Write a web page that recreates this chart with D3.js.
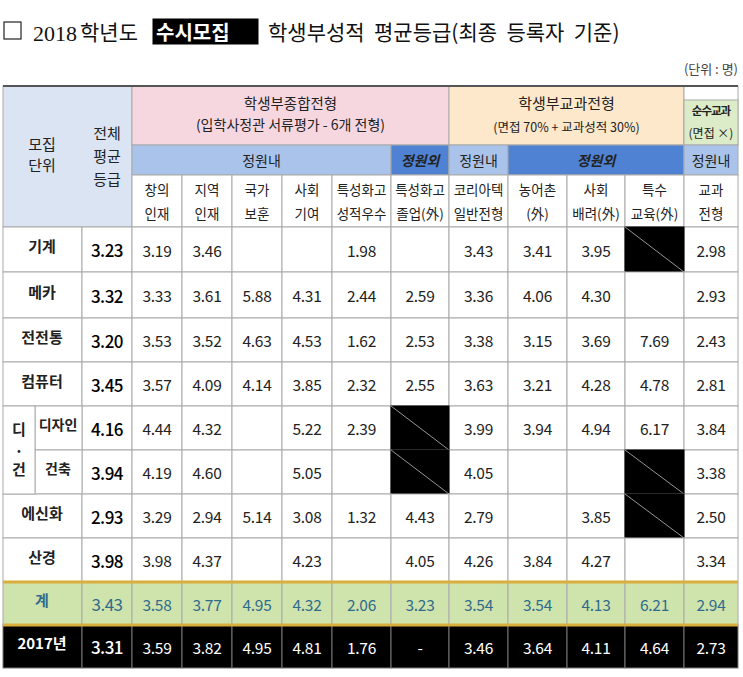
<!DOCTYPE html><html><head><meta charset="utf-8">
<script src="https://cdn.jsdelivr.net/npm/d3@7"></script>
<style>body{margin:0;background:#fff}text{font-family:"Noto Sans CJK KR",sans-serif}</style></head><body>
<svg id="c" width="743" height="677"></svg>
<script>
const colEdges=[3,82,132,182,232,282,332,391,449,508,567,625,684,738];
const rowEdges=[227,272,318,362,406,450,494,538,582,625,668];
const subHeaders=[["창의","인재"],["지역","인재"],["국가","보훈"],["사회","기여"],["특성화고","성적우수"],["특성화고","졸업(外)"],["코리아텍","일반전형"],["농어촌","(外)"],["사회","배려(外)"],["특수","교육(外)"],["교과","전형"]];
const units=["기계","메카","전전통","컴퓨터","디자인","건축","에신화","산경","계","2017년"];
const totalAvg=[3.23,3.32,3.20,3.45,4.16,3.94,2.93,3.98,3.43,3.31];
// "X" = blocked cell, null = empty
const values=[
[3.19,3.46,null,null,1.98,null,3.43,3.41,3.95,"X",2.98],
[3.33,3.61,5.88,4.31,2.44,2.59,3.36,4.06,4.30,null,2.93],
[3.53,3.52,4.63,4.53,1.62,2.53,3.38,3.15,3.69,7.69,2.43],
[3.57,4.09,4.14,3.85,2.32,2.55,3.63,3.21,4.28,4.78,2.81],
[4.44,4.32,null,5.22,2.39,"X",3.99,3.94,4.94,6.17,3.84],
[4.19,4.60,null,5.05,null,"X",4.05,null,null,"X",3.38],
[3.29,2.94,5.14,3.08,1.32,4.43,2.79,null,3.85,"X",2.50],
[3.98,4.37,null,4.23,null,4.05,4.26,3.84,4.27,null,3.34],
[3.58,3.77,4.95,4.32,2.06,3.23,3.54,3.54,4.13,6.21,2.94],
[3.59,3.82,4.95,4.81,1.76,"-",3.46,3.64,4.11,4.64,2.73]];
const svg=d3.select("#c");
const x=i=>colEdges[i], y=i=>rowEdges[i];
function rect(x0,y0,x1,y1,fill,stroke="#aaa"){return svg.append("rect").attr("x",x0).attr("y",y0).attr("width",x1-x0).attr("height",y1-y0).attr("fill",fill).attr("stroke",stroke).attr("stroke-width",1);}
function txt(s,cx,cy,o={}){return svg.append("text").attr("x",cx).attr("y",cy).attr("text-anchor",o.a||"middle").attr("dominant-baseline","central").attr("font-size",o.fs||14).attr("font-weight",o.fw||"normal").attr("font-style",o.it?"italic":"normal").attr("fill",o.c||"#222").attr("letter-spacing",o.ls||0).text(s);}
// title
svg.append("rect").attr("x",4).attr("y",22).attr("width",17).attr("height",17).attr("fill","none").attr("stroke","#222").attr("stroke-width",1.2);
svg.append("text").attr("x",33).attr("y",41).attr("font-size",22).style("font-family","Liberation Serif").attr("fill","#111").text("2018");
svg.append("text").attr("x",80).attr("y",40).attr("font-size",21).attr("fill","#111").text("학년도");
rect(153,19,258,44,"#000","#000");
svg.append("text").attr("x",156).attr("y",40).attr("font-size",20).attr("font-weight","bold").attr("fill","#fff").text("수시모집");
svg.append("text").attr("x",268).attr("y",40).attr("font-size",21).attr("fill","#111").attr("xml:space","preserve").style("white-space","pre").text("학생부성적  평균등급(최종  등록자  기준)");
txt("(단위 : 명)",738,68,{a:"end",fs:13,c:"#444"});
const H0=86,H1=145,H2=175,H3=227;
rect(x(0),H0,x(2),H3,"#dbe4f2");
rect(x(2),H0,x(8),H1,"#f7d7df");
rect(x(8),H0,x(12),H1,"#fde8cb");
rect(x(12),H0,x(13),H1,"#fff");
rect(x(12),H0+14,x(13),H1,"#dcecc9");
rect(x(2),H1,x(7),H2,"#a9c3ea");
rect(x(7),H1,x(8),H2,"#4f82d3");
rect(x(8),H1,x(9),H2,"#a9c3ea");
rect(x(9),H1,x(12),H2,"#4f82d3");
rect(x(12),H1,x(13),H2,"#a9c3ea");
for(let i=2;i<13;i++){rect(x(i),H2,x(i+1),H3,"#fff");
 txt(subHeaders[i-2][0],(x(i)+x(i+1))/2,H2+14,{fs:13.5});txt(subHeaders[i-2][1],(x(i)+x(i+1))/2,H2+38,{fs:13.5});}
txt("모집",42,143,{fs:15});txt("단위",42,164,{fs:15});
txt("전체",107,132,{fs:15});txt("평균",107,155,{fs:15});txt("등급",107,178,{fs:15});
txt("학생부종합전형",(x(2)+x(8))/2,102,{fs:14.5});
txt("(입학사정관 서류평가 - 6개 전형)",(x(2)+x(8))/2,124,{fs:14});
txt("학생부교과전형",(x(8)+x(12))/2,102,{fs:15});
txt("(면접 70% + 교과성적 30%)",(x(8)+x(12))/2,126,{fs:12.5});
txt("순수교과",711,110,{fs:11.5,fw:"bold",ls:-1});txt("(면접 ×)",711,132,{fs:12});
txt("정원내",(x(2)+x(7))/2,160,{fs:14});
txt("정원외",(x(7)+x(8))/2,160,{fs:14,it:1,fw:"bold"});
txt("정원내",(x(8)+x(9))/2,160,{fs:14});
txt("정원외",(x(9)+x(12))/2,160,{fs:14,it:1,fw:"bold"});
txt("정원내",(x(12)+x(13))/2,160,{fs:14});
svg.append("line").attr("x1",3).attr("x2",738).attr("y1",H0).attr("y2",H0).attr("stroke","#555").attr("stroke-width",2);
units.forEach((u,r)=>{
 const y0=y(r),y1=y(r+1),cy=(y0+y1)/2;
 const sum=r===8,old=r===9;
 const bg=sum?"#cfe3ad":old?"#000":"#fff";
 const fc=sum?"#2f6b8c":old?"#fff":"#222";
 for(let c=0;c<13;c++){ if(c===0&&(r===4||r===5)) continue; rect(x(c),y0,x(c+1),y1,bg,old?"#777":"#aaa");}
 if(r===4||r===5){rect(35,y0,82,y1,bg);txt(u,58,cy-4,{fs:14,fw:"bold"});}
 else txt(u,42,cy-4,{fs:15,fw:"bold",c:fc});
 txt(d3.format(".2f")(totalAvg[r]),107,cy,{fs:17,fw:sum?"normal":"500",c:sum?fc:old?"#fff":"#000",ls:-0.5});
 values[r].forEach((v,i)=>{const c=i+2,x0=x(c),x1=x(c+1);
  if(v==="X"){rect(x0,y0,x1,y1,"#000","#000");svg.append("line").attr("x1",x0).attr("y1",y0).attr("x2",x1).attr("y2",y1).attr("stroke","#bbb").attr("stroke-width",0.8);}
  else if(v!==null) txt(typeof v==="number"?d3.format(".2f")(v):v,(x0+x1)/2,cy,{fs:15.5,c:fc,ls:-0.3});
 });
});
rect(3,y(4),35,y(6),"#fff");
txt("디",19,y(4)+22,{fs:15,fw:"bold"});txt("·",19,y(5),{fs:15,fw:"bold"});txt("건",19,y(5)+18,{fs:15,fw:"bold"});
[y(8),y(9)].forEach(v=>svg.append("line").attr("x1",3).attr("x2",738).attr("y1",v).attr("y2",v).attr("stroke","#d9ae3c").attr("stroke-width",3));
</script></body></html>
